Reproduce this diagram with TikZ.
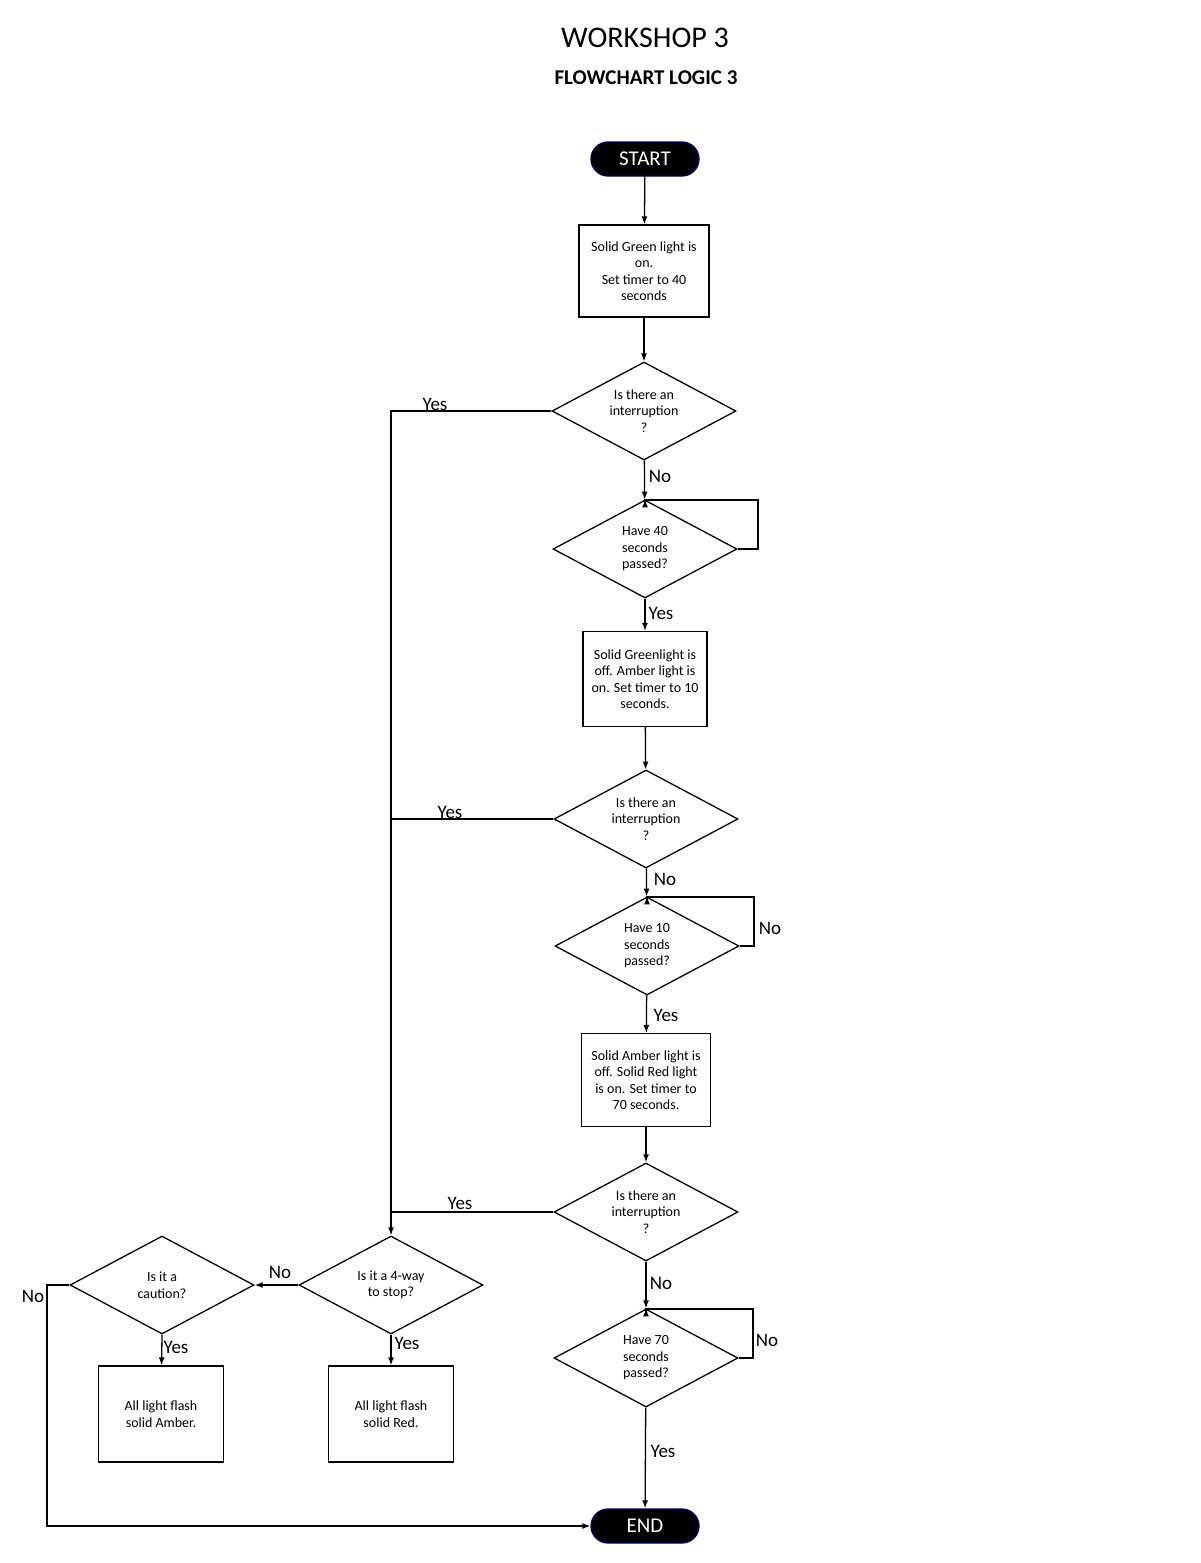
\documentclass[tikz,border=0pt]{standalone}
\usepackage{fontspec}
\setmainfont{Carlito}
\usetikzlibrary{shapes.geometric,arrows.meta}
\begin{document}
\begin{tikzpicture}[x=1pt,y=-1pt,
  every node/.style={font=\fontsize{14}{16.5}\selectfont},
  dia/.style={draw,line width=1.3,diamond,aspect=1.88,minimum width=184,minimum height=98,inner sep=0pt,align=center},
  bx/.style={draw,line width=1.3,align=center},
  pill/.style={draw=blue!40!black,line width=1.3,fill=black,text=white,rounded corners=17,minimum width=108,minimum height=34,font=\fontsize{21}{24}\selectfont},
  lbl/.style={font=\fontsize{19}{22}\selectfont},
  arr/.style={line width=1.3,-{Latex[length=8,width=6]}},
  ln/.style={line width=1.3}]
\useasboundingbox (0,0) rectangle (1200,1563);
\node[font=\fontsize{30}{34}\selectfont] (t1) at (645,38) {WORKSHOP 3};
\node[font=\fontsize{21}{24}\selectfont\bfseries] (t2) at (646,78) {FLOWCHART LOGIC 3};
\node[pill] (start) at (645,159) {START};
\node[bx,minimum width=130,minimum height=92] (b1) at (644,271) {Solid Green light is\\on.\\Set timer to 40\\seconds};
\node[dia] (d1) at (644,411) {Is there an\\interruption\\?};
\node[dia] (d2) at (645,549) {Have 40\\seconds\\passed?};
\node[bx,minimum width=124,minimum height=95] (b2) at (645,679) {Solid Greenlight is\\off. Amber light is\\on. Set timer to 10\\seconds.};
\node[dia] (d3) at (646,819) {Is there an\\interruption\\?};
\node[dia] (d4) at (647,946) {Have 10\\seconds\\passed?};
\node[bx,minimum width=129,minimum height=93] (b3) at (646,1080) {Solid Amber light is\\off. Solid Red light\\is on. Set timer to\\70 seconds.};
\node[dia] (d5) at (646,1212) {Is there an\\interruption\\?};
\node[dia] (d6) at (646,1358) {Have 70\\seconds\\passed?};
\node[pill] (end) at (645,1526) {END};
\node[dia] (d7) at (391,1285) {Is it a 4-way\\to stop?};
\node[dia] (d8) at (162,1285) {Is it a\\caution?};
\node[bx,minimum width=125,minimum height=96] (b4) at (391,1414) {All light flash\\solid Red.};
\node[bx,minimum width=125,minimum height=96] (b5) at (161,1414) {All light flash\\solid Amber.};
\draw[arr] (start) -- (b1);
\draw[arr] (b1) -- (d1);
\draw[arr] (d1) -- (d2);
\draw[arr] (d2) -- (b2);
\draw[arr] (b2) -- (d3);
\draw[arr] (d3) -- (d4);
\draw[arr] (d4) -- (b3);
\draw[arr] (b3) -- (d5);
\draw[arr] (d5) -- (d6);
\draw[arr] (d6) -- (end);
\coordinate (l2) at (758,549);
\draw[arr] (d2.east) -- (l2) |- (645,500) -- (d2.north);
\coordinate (l4) at (754,946);
\draw[arr] (d4.east) -- (l4) |- (647,897) -- (d4.north);
\coordinate (l6) at (753,1358);
\draw[arr] (d6.east) -- (l6) |- (646,1309) -- (d6.north);
\coordinate (y1) at (391,411);
\draw[arr] (d1.west) -- (y1) -- (d7.north);
\draw[ln] (d3.west) -- (391,819);
\draw[ln] (d5.west) -- (391,1212);
\draw[arr] (d7.west) -- (d8.east);
\draw[arr] (d7.south) -- (b4);
\draw[arr] (d8.south) -- (b5);
\coordinate (n8) at (47,1285);
\draw[arr] (d8.west) -- (n8) |- (end.west);
\node[lbl] at (435,404) {Yes};
\node[lbl] at (660,476) {No};
\node[lbl] at (661,613) {Yes};
\node[lbl] at (450,812) {Yes};
\node[lbl] at (665,879) {No};
\node[lbl] at (770,928) {No};
\node[lbl] at (666,1015) {Yes};
\node[lbl] at (460,1203) {Yes};
\node[lbl] at (661,1283) {No};
\node[lbl] at (767,1340) {No};
\node[lbl] at (663,1451) {Yes};
\node[lbl] at (176,1347) {Yes};
\node[lbl] at (407,1343) {Yes};
\node[lbl] at (280,1272) {No};
\node[lbl] at (33,1296) {No};
\end{tikzpicture}
\end{document}
